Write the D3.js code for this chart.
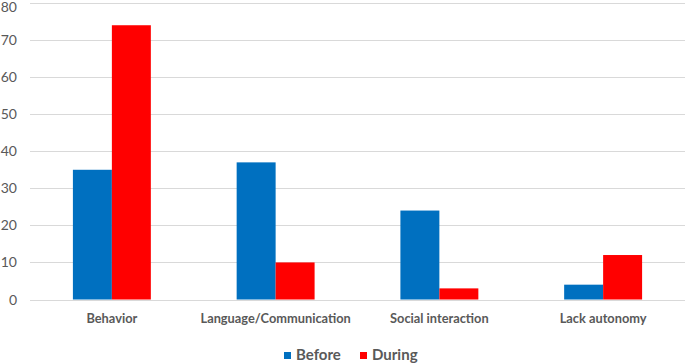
<!DOCTYPE html>
<html lang="en">
<head>
    <meta charset="UTF-8">
    <title>Before / During</title>
    <script src="https://d3js.org/d3.v7.min.js"></script>
    <style>
        body { margin: 0; background: #fff; }
        text { font-family: Lato, "Open Sans", sans-serif; fill: #595959; }
    </style>
</head>
<body>
    <div id="my_dataviz"></div>

    <script>
        // data
        const categories = ["Behavior", "Language/Communication", "Social interaction", "Lack autonomy"];
        const before = [35, 37, 24, 4];
        const during = [74, 10, 3, 12];
        const seriesNames = ["Before", "During"];
        const yTicks = [0, 10, 20, 30, 40, 50, 60, 70, 80];

        const colors = { Before: "#0070C0", During: "#FF0000" };

        const W = 685, H = 364;
        const margin = {top: 3, right: 0, bottom: 64, left: 30};

        const svg = d3.select("#my_dataviz")
            .append("svg")
            .attr("width", W)
            .attr("height", H);

        const x = d3.scaleBand()
            .domain(categories)
            .range([margin.left, W - margin.right])
            .paddingInner(0).paddingOuter(0);

        const y = d3.scaleLinear()
            .domain([0, 80])
            .range([H - margin.bottom - 0.5, margin.top]);

        // gridlines
        svg.append("g")
            .selectAll("line")
            .data(yTicks)
            .join("line")
            .attr("x1", margin.left)
            .attr("x2", W - margin.right)
            .attr("y1", d => Math.round(y(d)) + 0.5)
            .attr("y2", d => Math.round(y(d)) + 0.5)
            .attr("stroke", "#D9D9D9")
            .attr("stroke-width", 1);

        // y tick labels (top one nudged so it isn't clipped)
        svg.append("g")
            .selectAll("text")
            .data(yTicks)
            .join("text")
            .attr("x", 17)
            .attr("y", d => Math.max(y(d) + 5, 12))
            .attr("text-anchor", "end")
            .style("font-size", "14px")
            .text(d => d);

        const barW = x.bandwidth() * 0.238;
        const sub = d3.scaleBand()
            .domain(seriesNames)
            .range([x.bandwidth() / 2 - barW, x.bandwidth() / 2 + barW]);

        const rows = categories.map((c, i) => ({cat: c, Before: before[i], During: during[i]}));

        svg.append("g")
            .selectAll("g")
            .data(rows)
            .join("g")
            .attr("transform", d => `translate(${x(d.cat)},0)`)
            .selectAll("rect")
            .data(d => seriesNames.map(s => ({key: s, value: d[s]})))
            .join("rect")
            .attr("x", d => sub(d.key))
            .attr("width", sub.bandwidth())
            .attr("y", d => y(d.value))
            .attr("height", d => y(0) - y(d.value))
            .attr("fill", d => colors[d.key]);

        // category labels
        svg.append("g")
            .selectAll("text")
            .data(categories)
            .join("text")
            .attr("x", d => x(d) + x.bandwidth() / 2)
            .attr("y", 323)
            .attr("text-anchor", "middle")
            .style("font-size", "12.8px")
            .style("font-weight", "bold")
            .text(d => d);

        // legend
        const legend = svg.append("g");
        const legendX = [284, 360];
        seriesNames.forEach((s, i) => {
            legend.append("rect")
                .attr("x", legendX[i])
                .attr("y", 352)
                .attr("width", 7)
                .attr("height", 7)
                .attr("fill", colors[s]);
            legend.append("text")
                .attr("x", legendX[i] + 12)
                .attr("y", 359.5)
                .style("font-size", "15px")
                .style("font-weight", "bold")
                .text(s);
        });
    </script>
</body>
</html>
